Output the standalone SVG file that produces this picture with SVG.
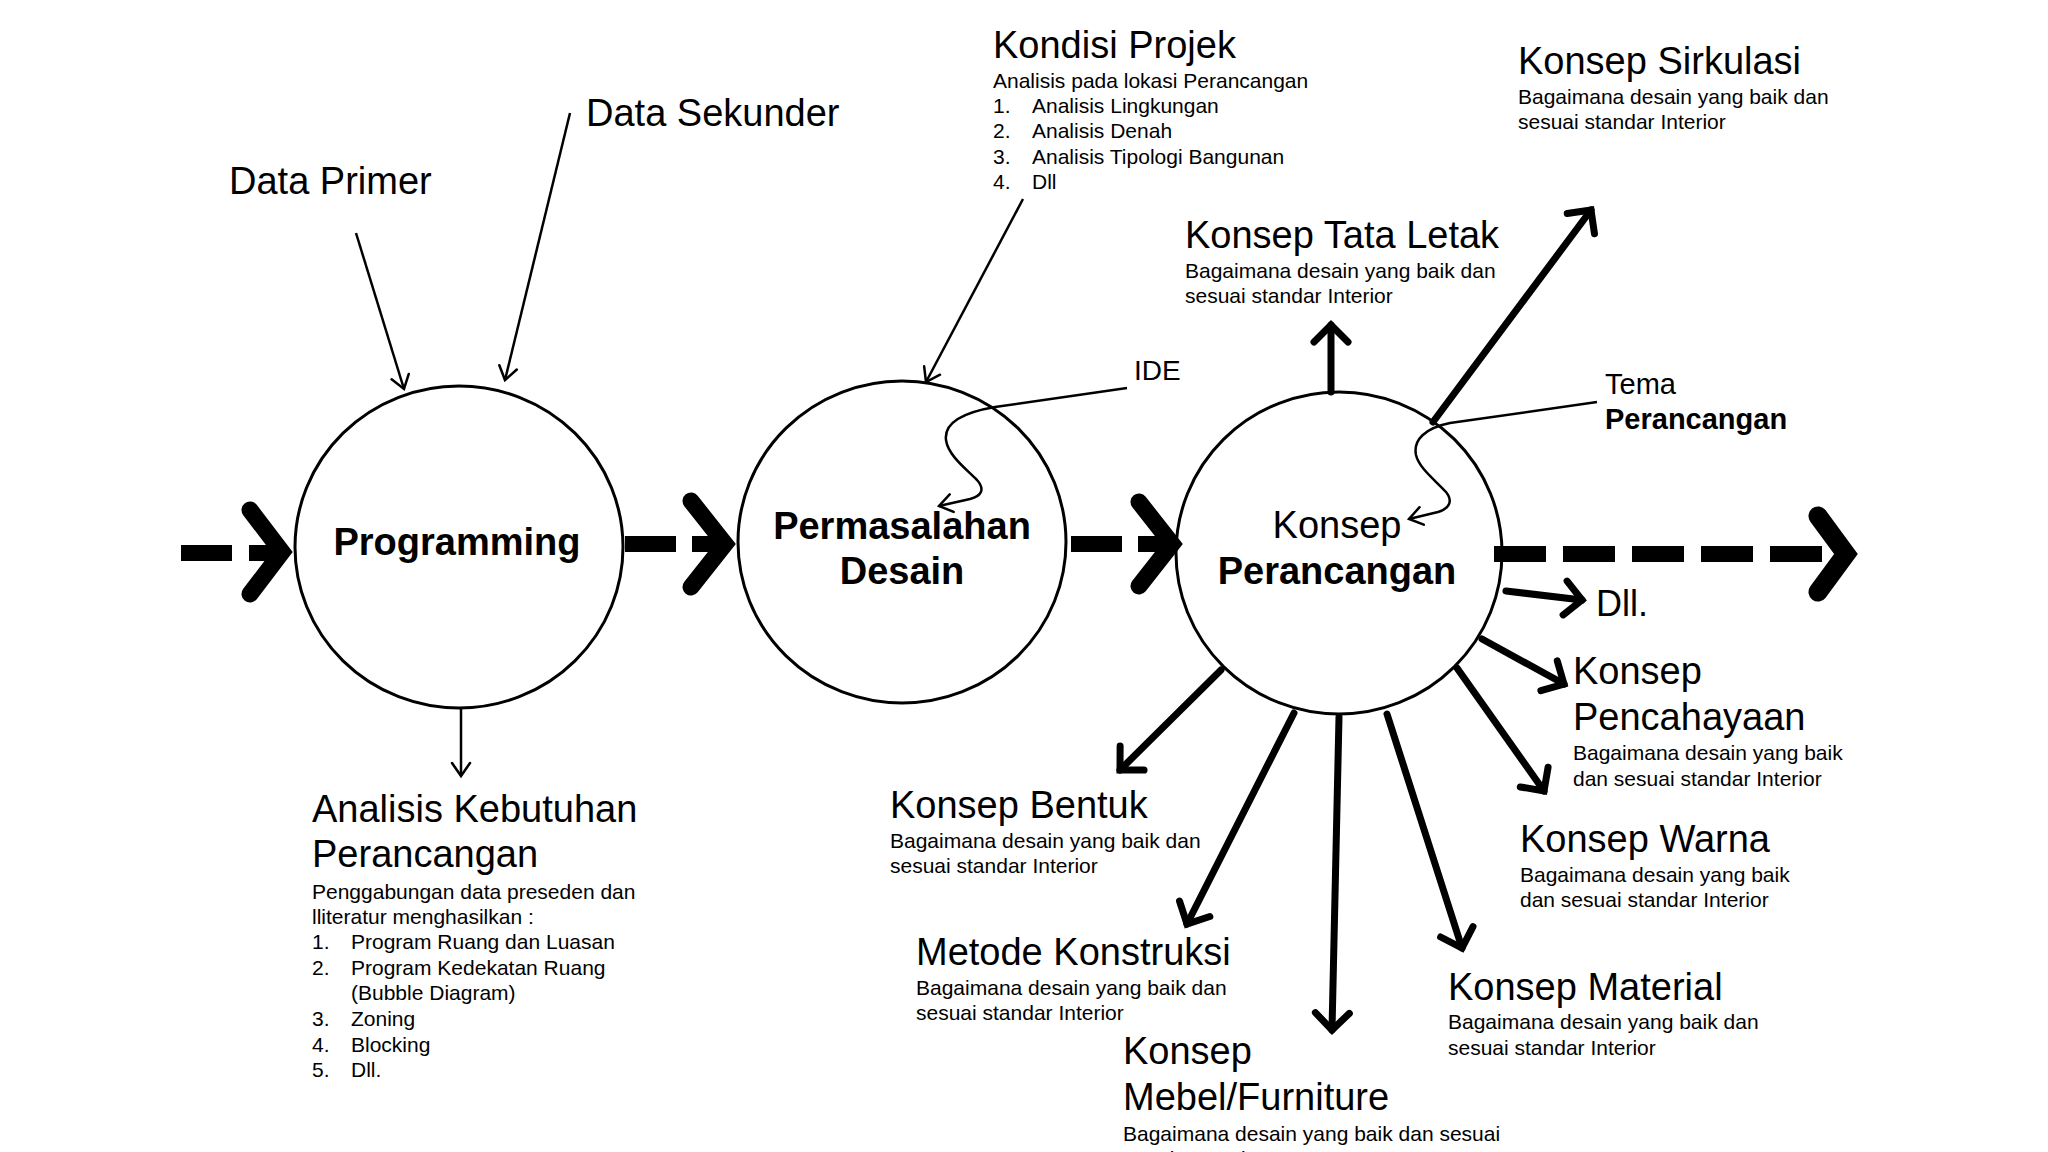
<svg xmlns="http://www.w3.org/2000/svg" width="2048" height="1152" viewBox="0 0 2048 1152">
<defs>
<style>
text{font-family:"Liberation Sans",Arial,sans-serif;fill:#000}
.h{font-size:38px}
.b{font-size:21px}
.hb{font-size:38px;font-weight:bold}
.node{fill:#fff;stroke:#000;stroke-width:3}
.thin{fill:none;stroke:#000;stroke-width:2.5;marker-end:url(#vthin)}
.thick{fill:none;stroke:#000;stroke-width:7;stroke-linecap:round;marker-end:url(#vthick)}
.flow{fill:none;stroke:#000;stroke-width:16}
.chev{fill:none;stroke:#000;stroke-width:17;stroke-linecap:round;stroke-linejoin:miter}
</style>
<marker id="vthin" markerUnits="userSpaceOnUse" orient="auto" overflow="visible" markerWidth="40" markerHeight="40" refX="0" refY="0">
<path d="M-13,-9 L0,0 L-13,9" fill="none" stroke="#000" stroke-width="2.5" stroke-linecap="round"/>
</marker>
<marker id="vthick" markerUnits="userSpaceOnUse" orient="auto" overflow="visible" markerWidth="60" markerHeight="60" refX="0" refY="0">
<path d="M-17,-17 L0,0 L-17,17" fill="none" stroke="#000" stroke-width="7" stroke-linecap="round" stroke-linejoin="miter"/>
</marker>
</defs>
<rect width="2048" height="1152" fill="#fff"/>

<g id="node-programming">
<ellipse class="node" cx="459" cy="547" rx="164" ry="161"/>
<text class="hb" x="457" y="555" text-anchor="middle">Programming</text>
</g>
<g id="node-permasalahan">
<ellipse class="node" cx="902" cy="542" rx="164" ry="161"/>
<text class="hb" x="902" y="539" text-anchor="middle">Permasalahan</text>
<text class="hb" x="902" y="584" text-anchor="middle">Desain</text>
</g>
<g id="node-konsep-perancangan">
<ellipse class="node" cx="1339" cy="553" rx="163" ry="161"/>
<text class="h" x="1337" y="538" text-anchor="middle">Konsep</text>
<text class="hb" x="1337" y="584" text-anchor="middle">Perancangan</text>
</g>

<g id="label-data-primer"><text class="h" x="229" y="194">Data Primer</text></g>
<g id="label-data-sekunder"><text class="h" x="586" y="126">Data Sekunder</text></g>

<g id="node-kondisi-projek">
<text class="h" x="993" y="58">Kondisi Projek</text>
<text class="b" x="993" y="88">Analisis pada lokasi Perancangan</text>
<text class="b" x="993" y="113">1.</text><text class="b" x="1032" y="113">Analisis Lingkungan</text>
<text class="b" x="993" y="138">2.</text><text class="b" x="1032" y="138">Analisis Denah</text>
<text class="b" x="993" y="164">3.</text><text class="b" x="1032" y="164">Analisis Tipologi Bangunan</text>
<text class="b" x="993" y="189">4.</text><text class="b" x="1032" y="189">Dll</text>
</g>

<g id="node-analisis-kebutuhan">
<text class="h" x="312" y="822">Analisis Kebutuhan</text>
<text class="h" x="312" y="867">Perancangan</text>
<text class="b" x="312" y="899">Penggabungan data preseden dan</text>
<text class="b" x="312" y="924">lliteratur menghasilkan :</text>
<text class="b" x="312" y="949">1.</text><text class="b" x="351" y="949">Program Ruang dan Luasan</text>
<text class="b" x="312" y="975">2.</text><text class="b" x="351" y="975">Program Kedekatan Ruang</text>
<text class="b" x="351" y="1000">(Bubble Diagram)</text>
<text class="b" x="312" y="1026">3.</text><text class="b" x="351" y="1026">Zoning</text>
<text class="b" x="312" y="1052">4.</text><text class="b" x="351" y="1052">Blocking</text>
<text class="b" x="312" y="1077">5.</text><text class="b" x="351" y="1077">Dll.</text>
</g>

<g id="label-ide"><text x="1134" y="380" style="font-size:28px">IDE</text></g>
<g id="label-tema">
<text x="1605" y="394" style="font-size:29px">Tema</text>
<text x="1605" y="429" style="font-size:29px;font-weight:bold">Perancangan</text>
</g>

<g id="node-sirkulasi">
<text class="h" x="1518" y="74">Konsep Sirkulasi</text>
<text class="b" x="1518" y="104">Bagaimana desain yang baik dan</text>
<text class="b" x="1518" y="129">sesuai standar Interior</text>
</g>
<g id="node-tata-letak">
<text class="h" x="1185" y="248">Konsep Tata Letak</text>
<text class="b" x="1185" y="278">Bagaimana desain yang baik dan</text>
<text class="b" x="1185" y="303">sesuai standar Interior</text>
</g>
<g id="node-dll"><text x="1596" y="616" style="font-size:36px">Dll.</text></g>
<g id="node-pencahayaan">
<text class="h" x="1573" y="684">Konsep</text>
<text class="h" x="1573" y="730">Pencahayaan</text>
<text class="b" x="1573" y="760">Bagaimana desain yang baik</text>
<text class="b" x="1573" y="786">dan sesuai standar Interior</text>
</g>
<g id="node-warna">
<text class="h" x="1520" y="852">Konsep Warna</text>
<text class="b" x="1520" y="882">Bagaimana desain yang baik</text>
<text class="b" x="1520" y="907">dan sesuai standar Interior</text>
</g>
<g id="node-material">
<text class="h" x="1448" y="1000">Konsep Material</text>
<text class="b" x="1448" y="1029">Bagaimana desain yang baik dan</text>
<text class="b" x="1448" y="1055">sesuai standar Interior</text>
</g>
<g id="node-mebel">
<text class="h" x="1123" y="1064">Konsep</text>
<text class="h" x="1123" y="1110">Mebel/Furniture</text>
<text class="b" x="1123" y="1141">Bagaimana desain yang baik dan sesuai</text>
<text class="b" x="1123" y="1166">standar Interior</text>
</g>
<g id="node-metode">
<text class="h" x="916" y="965">Metode Konstruksi</text>
<text class="b" x="916" y="995">Bagaimana desain yang baik dan</text>
<text class="b" x="916" y="1020">sesuai standar Interior</text>
</g>
<g id="node-bentuk">
<text class="h" x="890" y="818">Konsep Bentuk</text>
<text class="b" x="890" y="848">Bagaimana desain yang baik dan</text>
<text class="b" x="890" y="873">sesuai standar Interior</text>
</g>

<g id="connectors">
<line class="flow" x1="181" y1="553" x2="282" y2="553" stroke-dasharray="51 17"/>
<polyline class="chev" points="250,510 282,552 250,594"/>
<line class="flow" x1="625" y1="544" x2="725" y2="544" stroke-dasharray="51 16"/>
<polyline class="chev" points="691,501 725,544 691,587"/>
<line class="flow" x1="1071" y1="544" x2="1172" y2="544" stroke-dasharray="51 16"/>
<polyline class="chev" points="1139,502 1172,544 1139,586"/>
<line class="flow" x1="1494" y1="554" x2="1822" y2="554" stroke-dasharray="52 17"/>
<polyline class="chev" points="1818,516 1846,554 1818,592" style="stroke-width:19"/>

<path class="thin" d="M356,233 L404,389"/>
<path class="thin" d="M570,113 L505,380"/>
<path class="thin" d="M1023,199 L926,382"/>
<path class="thin" d="M461,708 L461,776"/>
<path class="thin" d="M1127,388 L995,407 C960,413 944,424 946,440 C948,455 965,468 977,480 C985,489 982,496 970,499 L939,506"/>
<path class="thin" d="M1597,402 L1450,423 C1425,428 1413,440 1416,455 C1419,468 1435,480 1446,492 C1454,502 1448,509 1438,512 L1409,519"/>

<path class="thick" d="M1331,392 L1331,325"/>
<path class="thick" d="M1433,422 L1591,210"/>
<path class="thick" d="M1506,591 L1582,600"/>
<path class="thick" d="M1482,639 L1564,684"/>
<path class="thick" d="M1457,668 L1544,791"/>
<path class="thick" d="M1387,714 L1462,948"/>
<path class="thick" d="M1339,717 L1332,1030"/>
<path class="thick" d="M1294,713 L1187,924"/>
<path class="thick" d="M1221,670 L1120,770"/>
</g>
</svg>
